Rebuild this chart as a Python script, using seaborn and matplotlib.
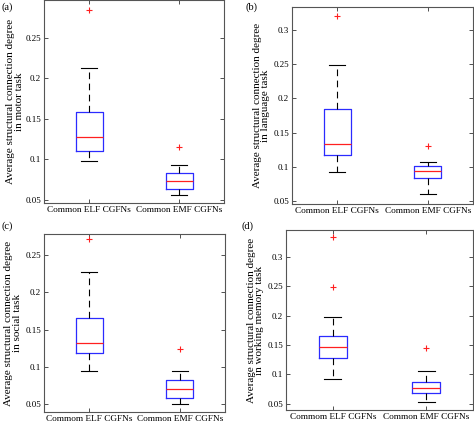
import numpy as np
import pandas as pd
import matplotlib
matplotlib.use("Agg")
import matplotlib.pyplot as plt
from matplotlib.ticker import FuncFormatter, MultipleLocator
import seaborn as sns

# ---- data (box statistics per panel) ----
panel_tags = ["(a)", "(b)", "(c)", "(d)"]
tasks = ["motor task", "language task", "social task", "working memory task"]
elf_names = ["Common ELF CGFNs", "Common ELF CGFNs", "Commom ELF CGFNs", "Commom ELF CGFNs"]
emf_names = ["Common EMF CGFNs", "Common EMF CGFNs", "Common EMF CGFNs", "Common EMF CGFNs"]

elf_low = [0.098, 0.093, 0.095, 0.092]
elf_q1 = [0.111, 0.117, 0.119, 0.128]
elf_med = [0.128, 0.133, 0.132, 0.147]
elf_q3 = [0.159, 0.185, 0.166, 0.165]
elf_high = [0.213, 0.249, 0.227, 0.197]
elf_out = [[0.284], [0.321], [0.271], [0.249, 0.333]]

emf_low = [0.056, 0.060, 0.051, 0.053]
emf_q1 = [0.063, 0.083, 0.059, 0.068]
emf_med = [0.074, 0.094, 0.070, 0.076]
emf_q3 = [0.083, 0.101, 0.082, 0.087]
emf_high = [0.093, 0.107, 0.095, 0.106]
emf_out = [[0.115], [0.131], [0.124], [0.144]]

y_limits = [(0.0463, 0.2972), (0.0456, 0.3336), (0.0397, 0.2777), (0.0393, 0.3454)]

# axes boxes in pixels: left, top, right, bottom
W, H = 474, 423
boxes_px = [(44, -0.5, 224, 203), (292, 7, 473, 204), (44, 234, 225, 412), (286, 230, 473, 410)]
tag_px = [(2, 7), (246, 7), (2, 226), (241, 226)]
ylabel_center_px = [15.5, 261.5, 13.5, 255.5]


def sample(low, q1, med, q3, high, outs):
    # sorted sample whose quartiles / whiskers / fliers equal the read statistics
    return [low] + [q1] * 3 + [med] * 3 + [q3] * 3 + [high] + list(outs)


plt.rcParams["font.family"] = ["Liberation Serif", "DejaVu Serif"]
fig = plt.figure(figsize=(W / 100, H / 100), dpi=100)
fig.patch.set_facecolor("white")

for i in range(4):
    l, t, r, b = boxes_px[i]
    ax = fig.add_axes([l / W, 1 - b / H, (r - l) / W, (b - t) / H])
    elf_vals = sample(elf_low[i], elf_q1[i], elf_med[i], elf_q3[i], elf_high[i], elf_out[i])
    emf_vals = sample(emf_low[i], emf_q1[i], emf_med[i], emf_q3[i], emf_high[i], emf_out[i])
    df = pd.DataFrame({
        "group": [elf_names[i]] * len(elf_vals) + [emf_names[i]] * len(emf_vals),
        "value": elf_vals + emf_vals,
    })
    sns.boxplot(
        data=df, x="group", y="value", ax=ax, fill=False, width=0.3, whis=1.5,
        boxprops=dict(color="#2b2bff", linewidth=0.9),
        medianprops=dict(color="#ff2020", linewidth=0.9),
        whiskerprops=dict(color="black", linewidth=0.8, linestyle=(0, (6, 4))),
        capprops=dict(color="black", linewidth=0.8),
        flierprops=dict(marker="+", markeredgecolor="#ff2020", markersize=5,
                        markeredgewidth=0.8, linestyle="none"),
        capwidths=0.18,
    )
    ax.set_xlim(-0.5, 1.5)
    ax.set_ylim(*y_limits[i])
    ax.yaxis.set_major_locator(MultipleLocator(0.05))
    ax.yaxis.set_major_formatter(FuncFormatter(lambda v, p: "%g" % round(v, 3)))
    ax.set_xlabel("")
    ax.set_ylabel("Average structural connection degree\nin " + tasks[i],
                  fontsize=8, linespacing=1.0, va="center", ha="center")
    ax.yaxis.set_label_coords((ylabel_center_px[i] - l) / (r - l), 0.5)
    ax.tick_params(direction="in", top=True, right=True, length=3, width=0.6,
                   pad=2, colors="#333333", labelcolor="black")
    ax.tick_params(axis="y", labelsize=6.5)
    ax.tick_params(axis="x", labelsize=6.7, pad=2)
    for s in ax.spines.values():
        s.set_color("#555555")
        s.set_linewidth(0.8)
    ax.set_facecolor("white")
    ax.grid(False)
    fig.text(tag_px[i][0] / W, 1 - tag_px[i][1] / H, panel_tags[i],
             fontsize=7.5, ha="left", va="center")

fig.savefig("out.png", dpi=100, facecolor="white")
